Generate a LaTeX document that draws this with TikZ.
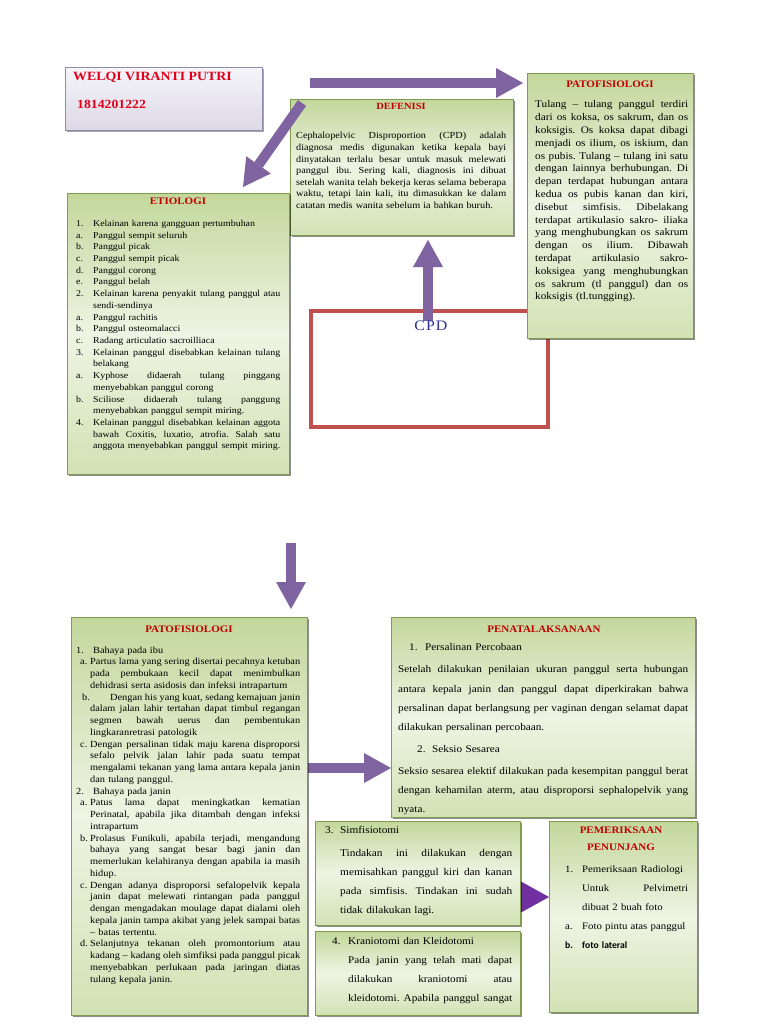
\documentclass[tikz,border=0pt]{standalone}
\usepackage{fontspec}
\setmainfont{Liberation Serif}[FakeStretch=1.1]
\newfontfamily\calibrifont{Carlito}
\usetikzlibrary{arrows.meta,shadows}
\frenchspacing

\definecolor{boxtop}{HTML}{C3D79C}
\definecolor{boxmid}{HTML}{EEF4E3}
\definecolor{boxbot}{HTML}{D2E2B4}
\definecolor{boxedge}{HTML}{7F9B4E}
\definecolor{nametop}{HTML}{F6F5FA}
\definecolor{namebot}{HTML}{DCD8E6}
\definecolor{nameedge}{HTML}{8F89AC}
\definecolor{titlered}{HTML}{C00000}
\definecolor{namered}{HTML}{E0001A}
\definecolor{arrowpurple}{HTML}{8064A2}
\definecolor{darkpurple}{HTML}{7030A0}
\definecolor{framered}{HTML}{C0504D}
\definecolor{cpdblue}{HTML}{2E3192}

% one justified line / one flush line, with a label box in front
\newcommand\jline[3]{\makebox[#1][l]{#2}\makebox[\dimexpr\linewidth-#1\relax][s]{\spaceskip=0pt\xspaceskip=0pt\relax#3}}
\newcommand\lline[3]{\makebox[#1][l]{#2}\mbox{#3}}

\begin{document}
\begin{tikzpicture}[x=1pt,y=-1pt,
  panel/.style={anchor=north west, inner sep=0pt, draw=boxedge, line width=.7pt,
    top color=boxtop, bottom color=boxbot, middle color=boxmid,
    drop shadow={shadow xshift=2pt,shadow yshift=-2pt,fill=black,opacity=.45}},
  namepanel/.style={anchor=north west, inner sep=0pt, draw=nameedge, line width=.8pt,
    top color=nametop, bottom color=namebot,
    drop shadow={shadow xshift=1.5pt,shadow yshift=-1.5pt,fill=black,opacity=.35}},
  ttl/.style={anchor=base, inner sep=0pt, text=titlered, font=\bfseries\fontsize{10}{12}\selectfont},
  body/.style={anchor=base west, inner sep=0pt, align=left},
  fatarrow/.style={draw=arrowpurple, line width=10pt, -{Triangle[length=27pt,width=30pt,line width=0pt]}},
]
\fill[white] (0,0) rectangle (768,1024);
\useasboundingbox (0,0) rectangle (768,1024);

% red frame round CPD
\draw[framered, line width=3.5pt] (311,311) rectangle (548,427);

% arrows
\coordinate (topstart) at (310,83);
\coordinate (topend) at (523,83);
\coordinate (upstart) at (428,321);
\coordinate (upend) at (428,240);
\coordinate (downstart) at (291,543);
\coordinate (downend) at (291,609);
\coordinate (rightstart) at (307,768);
\coordinate (rightend) at (391,768);
\coordinate (smallstart) at (505,897);
\coordinate (smallend) at (549,897);
\draw[fatarrow] (topstart) -- (topend);
\draw[fatarrow] (upstart) -- (upend);
\draw[fatarrow] (downstart) -- (downend);
\draw[fatarrow] (rightstart) -- (rightend);
\draw[fatarrow, draw=darkpurple, -{Triangle[length=28pt,width=31pt,line width=0pt]}] (smallstart) -- (smallend);

% boxes
\node[namepanel, minimum width=197pt, minimum height=63pt] (namebox) at (65,67) {};
\node[panel, minimum width=223pt, minimum height=136pt] (defbox) at (290,99) {};
\node[panel, minimum width=166pt, minimum height=265pt] (patobox) at (527,73) {};
\node[panel, minimum width=222pt, minimum height=281pt] (etibox) at (67,193) {};
\node[panel, minimum width=236pt, minimum height=398pt] (patobox2) at (71,617) {};
\node[panel, minimum width=304pt, minimum height=200pt] (penbox) at (391,617) {};
\node[panel, minimum width=205pt, minimum height=104pt] (simbox) at (315,821) {};
\node[panel, minimum width=205pt, minimum height=84pt] (krabox) at (315,931) {};
\node[panel, minimum width=148pt, minimum height=191pt] (pembox) at (549,821) {};

\coordinate (diagstart) at (302,103);
\coordinate (diagend) at (243,187);
\draw[fatarrow] (diagstart) -- (diagend);

% name
\node[anchor=base west, inner sep=0pt, text=namered, font=\bfseries\fontsize{12.6}{14}\selectfont] (name) at (73,81) {WELQI VIRANTI PUTRI};
\node[anchor=base west, inner sep=0pt, text=namered, font=\bfseries\fontsize{12.5}{14}\selectfont] (nim) at (77,109) {1814201222};

% CPD
\node[inner sep=0pt, text=cpdblue, font=\fontsize{14.5}{16}\selectfont] (cpd) at (431,326) {C\kern1pt P\kern1pt D};

% defenisi
\node[ttl, font=\bfseries\fontsize{9.5}{12}\selectfont] (deftitle) at (401,110) {DEFENISI};
\node[body, text width=210pt, font=\fontsize{9.3}{11.6}\selectfont] (deftext) at (296,139) {%
\jline{0pt}{}{Cephalopelvic Disproportion (CPD) adalah}\\
\jline{0pt}{}{diagnosa medis digunakan ketika kepala bayi}\\
\jline{0pt}{}{dinyatakan terlalu besar untuk masuk melewati}\\
\jline{0pt}{}{panggul ibu. Sering kali, diagnosis ini dibuat}\\
\jline{0pt}{}{setelah wanita telah bekerja keras selama beberapa}\\
\jline{0pt}{}{waktu, tetapi lain kali, itu dimasukkan ke dalam}\\
\lline{0pt}{}{catatan medis wanita sebelum ia bahkan buruh.}};

% patofisiologi (top)
\node[ttl] (patotitle) at (610,88) {PATOFISIOLOGI};
\node[body, text width=153pt, font=\fontsize{10.2}{12.8}\selectfont] (patotext) at (535,108) {%
\jline{0pt}{}{Tulang -- tulang panggul terdiri}\\
\jline{0pt}{}{dari os koksa, os sakrum, dan os}\\
\jline{0pt}{}{koksigis. Os koksa dapat dibagi}\\
\jline{0pt}{}{menjadi os ilium, os iskium, dan}\\
\jline{0pt}{}{os pubis. Tulang -- tulang ini satu}\\
\jline{0pt}{}{dengan lainnya berhubungan. Di}\\
\jline{0pt}{}{depan terdapat hubungan antara}\\
\jline{0pt}{}{kedua os pubis kanan dan kiri,}\\
\jline{0pt}{}{disebut simfisis. Dibelakang}\\
\jline{0pt}{}{terdapat artikulasio sakro- iliaka}\\
\jline{0pt}{}{yang menghubungkan os sakrum}\\
\jline{0pt}{}{dengan os ilium. Dibawah}\\
\jline{0pt}{}{terdapat artikulasio sakro-}\\
\jline{0pt}{}{koksigea yang menghubungkan}\\
\jline{0pt}{}{os sakrum (tl panggul) dan os}\\
\lline{0pt}{}{koksigis (tl.tungging).}};

% etiologi
\node[ttl] (etititle) at (178,205) {ETIOLOGI};
\node[body, text width=204pt, font=\fontsize{9}{11.7}\selectfont] (etitext) at (76,226.5) {%
\lline{17pt}{1.}{Kelainan karena gangguan pertumbuhan}\\
\lline{17pt}{a.}{Panggul sempit seluruh}\\
\lline{17pt}{b.}{Panggul picak}\\
\lline{17pt}{c.}{Panggul sempit picak}\\
\lline{17pt}{d.}{Panggul corong}\\
\lline{17pt}{e.}{Panggul belah}\\
\jline{17pt}{2.}{Kelainan karena penyakit tulang panggul atau}\\
\lline{17pt}{}{sendi-sendinya}\\
\lline{17pt}{a.}{Panggul rachitis}\\
\lline{17pt}{b.}{Panggul osteomalacci}\\
\lline{17pt}{c.}{Radang articulatio sacroilliaca}\\
\jline{17pt}{3.}{Kelainan panggul disebabkan kelainan tulang}\\
\lline{17pt}{}{belakang}\\
\jline{17pt}{a.}{Kyphose didaerah tulang pinggang}\\
\lline{17pt}{}{menyebabkan panggul corong}\\
\jline{17pt}{b.}{Sciliose didaerah tulang panggung}\\
\lline{17pt}{}{menyebabkan panggul sempit miring.}\\
\jline{17pt}{4.}{Kelainan panggul disebabkan kelainan aggota}\\
\jline{17pt}{}{bawah Coxitis, luxatio, atrofia. Salah satu}\\
\jline{17pt}{}{anggota menyebabkan panggul sempit miring.}};

% patofisiologi (bottom)
\node[ttl] (patotitle2) at (189,632) {PATOFISIOLOGI};
\node[body, text width=224pt, font=\fontsize{9.4}{11.75}\selectfont] (patotext2) at (76,653) {%
\lline{17pt}{1.}{Bahaya pada ibu}\\
\jline{14pt}{\hspace*{4pt}a.}{Partus lama yang sering disertai pecahnya ketuban}\\
\jline{14pt}{}{pada pembukaan kecil dapat menimbulkan}\\
\lline{14pt}{}{dehidrasi serta asidosis dan infeksi intrapartum}\\
\jline{14pt}{\hspace*{6pt}b.}{\hspace*{20pt}Dengan his yang kuat, sedang kemajuan janin}\\
\jline{14pt}{}{dalam jalan lahir tertahan dapat timbul regangan}\\
\jline{14pt}{}{segmen bawah uerus dan pembentukan}\\
\lline{14pt}{}{lingkaranretrasi patologik}\\
\jline{14pt}{\hspace*{4pt}c.}{Dengan persalinan tidak maju karena disproporsi}\\
\jline{14pt}{}{sefalo pelvik jalan lahir pada suatu tempat}\\
\jline{14pt}{}{mengalami tekanan yang lama antara kepala janin}\\
\lline{14pt}{}{dan tulang panggul.}\\
\lline{17pt}{2.}{Bahaya pada janin}\\
\jline{14pt}{\hspace*{4pt}a.}{Patus lama dapat meningkatkan kematian}\\
\jline{14pt}{}{Perinatal, apabila jika ditambah dengan infeksi}\\
\lline{14pt}{}{intrapartum}\\
\jline{14pt}{\hspace*{4pt}b.}{Prolasus Funikuli, apabila terjadi, mengandung}\\
\jline{14pt}{}{bahaya yang sangat besar bagi janin dan}\\
\jline{14pt}{}{memerlukan kelahiranya dengan apabila ia masih}\\
\lline{14pt}{}{hidup.}\\
\jline{14pt}{\hspace*{4pt}c.}{Dengan adanya disproporsi sefalopelvik kepala}\\
\jline{14pt}{}{janin dapat melewati rintangan pada panggul}\\
\jline{14pt}{}{dengan mengadakan moulage dapat dialami oleh}\\
\jline{14pt}{}{kepala janin tampa akibat yang jelek sampai batas}\\
\lline{14pt}{}{-- batas tertentu.}\\
\jline{14pt}{\hspace*{4pt}d.}{Selanjutnya tekanan oleh promontorium atau}\\
\jline{14pt}{}{kadang -- kadang oleh simfiksi pada panggul picak}\\
\jline{14pt}{}{menyebabkan perlukaan pada jaringan diatas}\\
\lline{14pt}{}{tulang kepala janin.}};

% penatalaksanaan
\node[ttl] (pentitle) at (544,632) {PENATALAKSANAAN};
\node[body, text width=290pt, font=\fontsize{10.2}{19.3}\selectfont] (pentext) at (398,650) {%
\lline{27pt}{\hspace*{11pt}1.}{Persalinan Percobaan}\\[3.5pt]
\jline{0pt}{}{Setelah dilakukan penilaian ukuran panggul serta hubungan}\\
\jline{0pt}{}{antara kepala janin dan panggul dapat diperkirakan bahwa}\\
\jline{0pt}{}{persalinan dapat berlangsung per vaginan dengan selamat dapat}\\
\lline{0pt}{}{dilakukan persalinan percobaan.}\\[2.5pt]
\lline{34pt}{\hspace*{19pt}2.}{Seksio Sesarea}\\[2.5pt]
\jline{0pt}{}{Seksio sesarea elektif dilakukan pada kesempitan panggul berat}\\
\jline{0pt}{}{dengan kehamilan aterm, atau disproporsi sephalopelvik yang}\\
\lline{0pt}{}{nyata.}};

% simfisiotomi
\node[body, text width=187pt, font=\fontsize{10.3}{19}\selectfont] (simtext) at (325,833) {%
\lline{15pt}{3.}{Simfisiotomi}\\[4pt]
\jline{15pt}{}{Tindakan ini dilakukan dengan}\\
\jline{15pt}{}{memisahkan panggul kiri dan kanan}\\
\jline{15pt}{}{pada simfisis. Tindakan ini sudah}\\
\lline{15pt}{}{tidak dilakukan lagi.}};

% kraniotomi
\node[body, text width=180pt, font=\fontsize{10.2}{19}\selectfont] (kratext) at (332,944) {%
\lline{16pt}{4.}{Kraniotomi dan Kleidotomi}\\
\jline{16pt}{}{Pada janin yang telah mati dapat}\\
\jline{16pt}{}{dilakukan kraniotomi atau}\\
\jline{16pt}{}{kleidotomi. Apabila panggul sangat}};

% pemeriksaan penunjang
\node[ttl] (pemtitle) at (621,833) {PEMERIKSAAN};
\node[ttl] (pemtitle2) at (621,850) {PENUNJANG};
\node[body, text width=123pt, font=\fontsize{9.8}{19}\selectfont] (pemtext) at (565,872) {%
\lline{17pt}{1.}{Pemeriksaan Radiologi}\\
\jline{17pt}{}{Untuk Pelvimetri}\\
\lline{17pt}{}{dibuat 2 buah foto}\\
\lline{17pt}{a.}{Foto pintu atas panggul}\\
{\calibrifont\bfseries\fontsize{9.6}{19}\selectfont\lline{17pt}{b.}{foto lateral}}};
\end{tikzpicture}
\end{document}
